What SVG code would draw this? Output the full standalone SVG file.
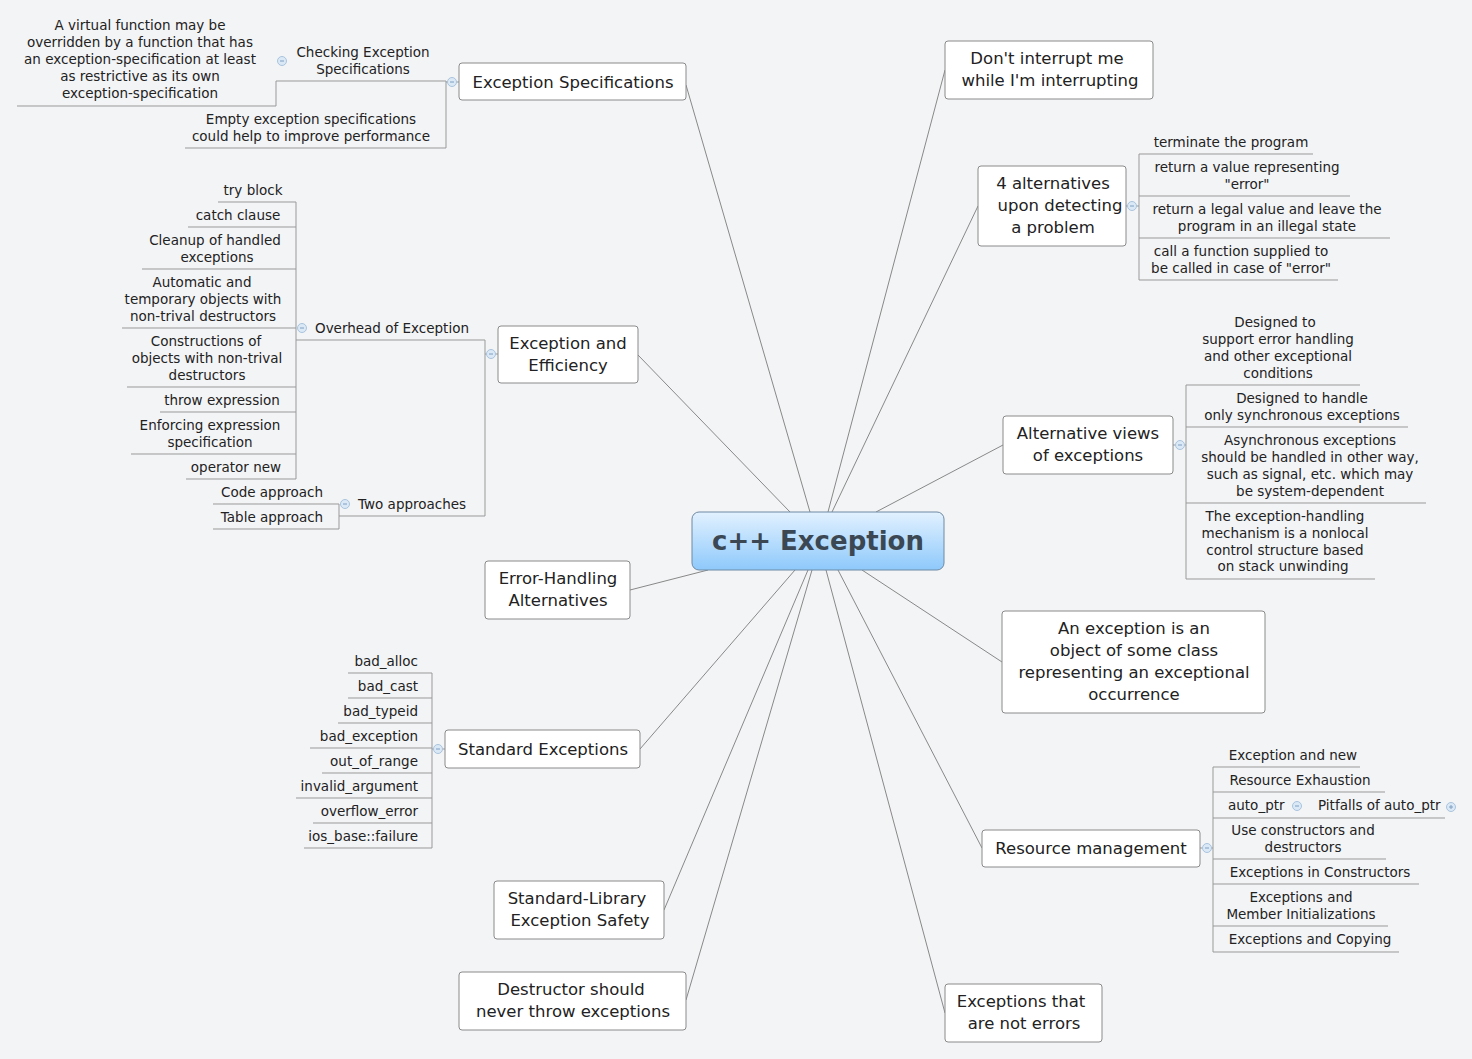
<svg xmlns="http://www.w3.org/2000/svg" width="1472" height="1059" viewBox="0 0 1472 1059">
<defs>
<linearGradient id="cg" x1="0" y1="0" x2="0" y2="1"><stop offset="0" stop-color="#e2f1ff"/><stop offset="1" stop-color="#8ec9fb"/></linearGradient>
<style>
.t{font-family:"DejaVu Sans",sans-serif;font-size:16.5px;fill:#222;text-anchor:middle}
.s{font-family:"DejaVu Sans",sans-serif;font-size:13.5px;fill:#222}
.m{text-anchor:middle}.e{text-anchor:end}
.n{fill:#fff;stroke:#8a8a8a;stroke-width:1}
.l{stroke:#888;stroke-width:1;fill:none}
.u{stroke:#999;stroke-width:1;fill:none}
.i{fill:#dbe9f7;stroke:#a9c3dd;stroke-width:1}
.ib{stroke:#7f9fc0;stroke-width:1}
</style>
</defs>
<rect width="1472" height="1059" fill="#f3f4f6"/>
<g id="connectors">
<path class="l" d="M810 512L686 85M790 512L638 355M708 570L630 590M795 570L640 749M808 570L664 910M812 570L686 1000M828 512L945 70M832 512L978 206M876 512L1003 445M862 570L1002 662M838 570L982 848M826 570L945 1013"/>
<path class="u" d="M446 82H459M446 81V148M185 148H446M276 81H446M276 81V106M17 106H276"/>
<path class="u" d="M485 354H498M485 340V516M296 340H485M339 516H485M296 202V479M218 202H296M188 227H296M142 269H296M122 328H296M127 387H296M160 412H296M131 454H296M186 479H296M339 504V529M213 504H339M213 529H339"/>
<path class="u" d="M432 749H445M432 673V848M348 673H432M348 698H432M338 723H432M310 748H432M322 773H432M296 798H432M313 823H432M304 848H432"/>
<path class="u" d="M1126 206H1139M1139 154V280M1139 154H1313M1139 196H1350M1139 238H1390M1139 280H1338"/>
<path class="u" d="M1173 445H1186M1186 385V579M1186 385H1360M1186 427H1408M1186 503H1426M1186 579H1375"/>
<path class="u" d="M1200 848H1213M1213 767V952M1213 767H1360M1213 792H1385M1213 818H1445M1213 859H1386M1213 884H1419M1213 926H1388M1213 952H1399"/>
</g>
<g id="center"><rect x="692" y="512" width="252" height="58" rx="7" fill="url(#cg)" stroke="#6f8aa3"/><text x="818" y="550" font-family="DejaVu Sans,sans-serif" font-weight="bold" font-size="26" fill="#3b4752" text-anchor="middle">c++ Exception</text></g>
<g id="n1"><rect class="n" x="459" y="63" width="227" height="37" rx="3"/><text class="t" x="573" y="88">Exception Specifications</text></g>
<g id="n2"><rect class="n" x="498" y="326" width="140" height="57" rx="3"/><text class="t" x="568" y="349">Exception and</text><text class="t" x="568" y="371">Efficiency</text></g>
<g id="n3"><rect class="n" x="485" y="561" width="145" height="58" rx="3"/><text class="t" x="558" y="584">Error-Handling</text><text class="t" x="558" y="606">Alternatives</text></g>
<g id="n4"><rect class="n" x="445" y="730" width="195" height="38" rx="3"/><text class="t" x="543" y="755">Standard Exceptions</text></g>
<g id="n5"><rect class="n" x="494" y="881" width="170" height="58" rx="3"/><text class="t" x="577" y="904">Standard-Library</text><text class="t" x="580" y="926">Exception Safety</text></g>
<g id="n6"><rect class="n" x="459" y="972" width="227" height="58" rx="3"/><text class="t" x="571" y="995">Destructor should</text><text class="t" x="573" y="1017">never throw exceptions</text></g>
<g id="n7"><rect class="n" x="945" y="41" width="208" height="58" rx="3"/><text class="t" x="1047" y="64">Don't interrupt me</text><text class="t" x="1050" y="86">while I'm interrupting</text></g>
<g id="n8"><rect class="n" x="978" y="166" width="148" height="80" rx="3"/><text class="t" x="1053" y="189">4 alternatives</text><text class="t" x="1060" y="211">upon detecting</text><text class="t" x="1053" y="233">a problem</text></g>
<g id="n9"><rect class="n" x="1003" y="416" width="170" height="58" rx="3"/><text class="t" x="1088" y="439">Alternative views</text><text class="t" x="1088" y="461">of exceptions</text></g>
<g id="n10"><rect class="n" x="1002" y="611" width="263" height="102" rx="3"/><text class="t" x="1134" y="634">An exception is an</text><text class="t" x="1134" y="656">object of some class</text><text class="t" x="1134" y="678">representing an exceptional</text><text class="t" x="1134" y="700">occurrence</text></g>
<g id="n11"><rect class="n" x="982" y="830" width="218" height="37" rx="3"/><text class="t" x="1091" y="854">Resource management</text></g>
<g id="n12"><rect class="n" x="945" y="984" width="157" height="58" rx="3"/><text class="t" x="1021" y="1007">Exceptions that</text><text class="t" x="1024" y="1029">are not errors</text></g>
<g id="sub-spec">
<text class="s m" x="363" y="57">Checking Exception</text><text class="s m" x="363" y="74">Specifications</text>
<text class="s m" x="140" y="30">A virtual function may be</text><text class="s m" x="140" y="47">overridden by a function that has</text><text class="s m" x="140" y="64">an exception-specification at least</text><text class="s m" x="140" y="81">as restrictive as its own</text><text class="s m" x="140" y="98">exception-specification</text>
<text class="s m" x="311" y="124">Empty exception specifications</text><text class="s m" x="311" y="141">could help to improve performance</text>
</g>
<g id="sub-eff">
<text class="s" x="315" y="333">Overhead of Exception</text><text class="s" x="358" y="509">Two approaches</text>
<text class="s m" x="253" y="195">try block</text><text class="s m" x="238" y="220">catch clause</text>
<text class="s m" x="215" y="245">Cleanup of handled</text><text class="s m" x="217" y="262">exceptions</text>
<text class="s m" x="202" y="287">Automatic and</text><text class="s m" x="203" y="304">temporary objects with</text><text class="s m" x="203" y="321">non-trival destructors</text>
<text class="s m" x="206" y="346">Constructions of</text><text class="s m" x="207" y="363">objects with non-trival</text><text class="s m" x="207" y="380">destructors</text>
<text class="s m" x="222" y="405">throw expression</text>
<text class="s m" x="210" y="430">Enforcing expression</text><text class="s m" x="210" y="447">specification</text>
<text class="s m" x="236" y="472">operator new</text>
<text class="s m" x="272" y="497">Code approach</text><text class="s m" x="272" y="522">Table approach</text>
</g>
<g id="sub-std">
<text class="s e" x="418" y="666">bad_alloc</text><text class="s e" x="418" y="691">bad_cast</text><text class="s e" x="418" y="716">bad_typeid</text><text class="s e" x="418" y="741">bad_exception</text><text class="s e" x="418" y="766">out_of_range</text><text class="s e" x="418" y="791">invalid_argument</text><text class="s e" x="418" y="816">overflow_error</text><text class="s e" x="418" y="841">ios_base::failure</text>
</g>
<g id="sub-alt">
<text class="s m" x="1231" y="147">terminate the program</text>
<text class="s m" x="1247" y="172">return a value representing</text><text class="s m" x="1247" y="189">"error"</text>
<text class="s m" x="1267" y="214">return a legal value and leave the</text><text class="s m" x="1267" y="231">program in an illegal state</text>
<text class="s m" x="1241" y="256">call a function supplied to</text><text class="s m" x="1241" y="273">be called in case of "error"</text>
</g>
<g id="sub-views">
<text class="s m" x="1275" y="327">Designed to</text><text class="s m" x="1278" y="344">support error handling</text><text class="s m" x="1278" y="361">and other exceptional</text><text class="s m" x="1278" y="378">conditions</text>
<text class="s m" x="1302" y="403">Designed to handle</text><text class="s m" x="1302" y="420">only synchronous exceptions</text>
<text class="s m" x="1310" y="445">Asynchronous exceptions</text><text class="s m" x="1310" y="462">should be handled in other way,</text><text class="s m" x="1310" y="479">such as signal, etc. which may</text><text class="s m" x="1310" y="496">be system-dependent</text>
<text class="s m" x="1285" y="521">The exception-handling</text><text class="s m" x="1285" y="538">mechanism is a nonlocal</text><text class="s m" x="1285" y="555">control structure based</text><text class="s m" x="1283" y="571">on stack unwinding</text>
</g>
<g id="sub-res">
<text class="s m" x="1293" y="760">Exception and new</text><text class="s m" x="1300" y="785">Resource Exhaustion</text>
<text class="s" x="1228" y="810">auto_ptr</text><text class="s" x="1318" y="810">Pitfalls of auto_ptr</text>
<text class="s m" x="1303" y="835">Use constructors and</text><text class="s m" x="1303" y="852">destructors</text>
<text class="s m" x="1320" y="877">Exceptions in Constructors</text>
<text class="s m" x="1301" y="902">Exceptions and</text><text class="s m" x="1301" y="919">Member Initializations</text>
<text class="s m" x="1310" y="944">Exceptions and Copying</text>
</g>
<g id="icons">
<circle class="i" cx="452" cy="82" r="4.5"/><circle class="i" cx="282" cy="61" r="4.5"/><circle class="i" cx="491" cy="354" r="4.5"/><circle class="i" cx="302" cy="328" r="4.5"/><circle class="i" cx="345" cy="504" r="4.5"/><circle class="i" cx="438" cy="749" r="4.5"/><circle class="i" cx="1132" cy="206" r="4.5"/><circle class="i" cx="1180" cy="445" r="4.5"/><circle class="i" cx="1207" cy="848" r="4.5"/><circle class="i" cx="1297" cy="806" r="4.5"/><circle class="i" cx="1451" cy="807" r="4.5"/>
<path class="ib" d="M450 82h4M280 61h4M489 354h4M300 328h4M343 504h4M436 749h4M1130 206h4M1178 445h4M1205 848h4M1295 806h4M1449 807h4M1451 805v4"/>
</g>
</svg>
